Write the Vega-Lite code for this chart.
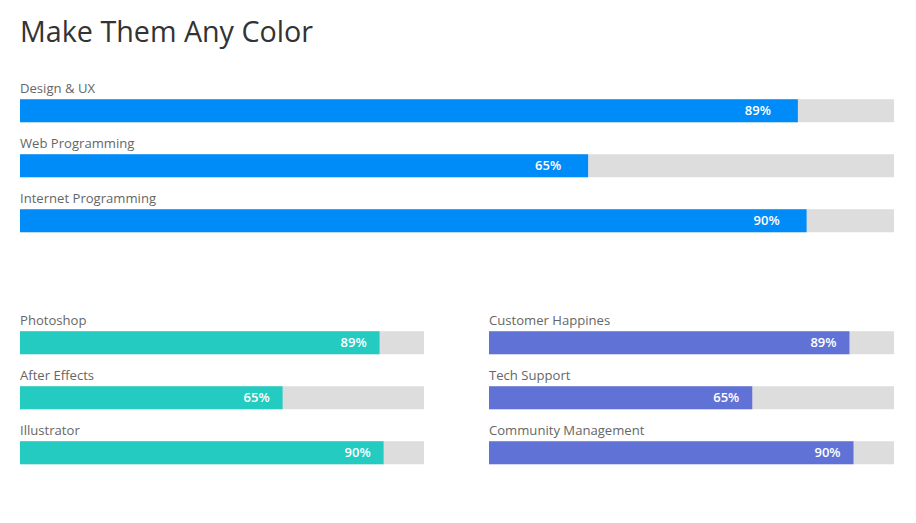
{
  "$schema": "https://vega.github.io/schema/vega-lite/v6.json",
  "background": "white",
  "padding": {"left": 20, "top": 19, "right": 22, "bottom": 0},
  "title": {
    "text": "Make Them Any Color",
    "anchor": "start",
    "font": "Open Sans",
    "fontSize": 28.7,
    "fontWeight": "normal",
    "color": "#333333",
    "offset": 32.3
  },
  "config": {
    "view": {"stroke": null},
    "text": {"font": "Open Sans"}
  },
  "datasets": {
    "skills": [
      {"group": "web", "skill": "Design & UX", "value": 0.89},
      {"group": "web", "skill": "Web Programming", "value": 0.65},
      {"group": "web", "skill": "Internet Programming", "value": 0.90},
      {"group": "design", "skill": "Photoshop", "value": 0.89},
      {"group": "design", "skill": "After Effects", "value": 0.65},
      {"group": "design", "skill": "Illustrator", "value": 0.90},
      {"group": "support", "skill": "Customer Happines", "value": 0.89},
      {"group": "support", "skill": "Tech Support", "value": 0.65},
      {"group": "support", "skill": "Community Management", "value": 0.90}
    ]
  },
  "spacing": 60,
  "vconcat": [
    {
      "width": 874,
      "height": {"step": 55},
      "data": {"name": "skills"},
      "transform": [{"filter": "datum.group === 'web'"}],
      "encoding": {
        "y": {"field": "skill", "type": "nominal", "sort": null, "axis": null,
              "scale": {"paddingInner": 0.582, "paddingOuter": 0.35}}
      },
      "layer": [
        {
          "mark": {"type": "bar", "color": "#dddddd"},
          "encoding": {"x": {"datum": 1, "type": "quantitative", "axis": null, "scale": {"domain": [0, 1]}}}
        },
        {
          "mark": {"type": "bar"},
          "encoding": {
            "x": {"field": "value", "type": "quantitative"},
            "color": {"field": "group", "type": "nominal", "legend": null,
                      "scale": {"domain": ["web", "design", "support"], "range": ["#008cf8", "#23cbc0", "#6072d5"]}}
          }
        },
        {
          "mark": {"type": "text", "align": "left", "baseline": "alphabetic", "dy": -17.8, "fontSize": 13.1, "color": "#666666"},
          "encoding": {"x": {"datum": 0, "type": "quantitative"}, "text": {"field": "skill"}}
        },
        {
          "mark": {"type": "text", "align": "center", "baseline": "alphabetic", "dx": -40, "dy": 4.5, "fontSize": 13, "fontWeight": 600, "color": "white"},
          "encoding": {"x": {"field": "value", "type": "quantitative"}, "text": {"field": "value", "format": ".0%"}}
        }
      ]
    },
    {
      "spacing": 65,
      "hconcat": [
        {
          "width": 404,
          "height": {"step": 55},
          "data": {"name": "skills"},
          "transform": [{"filter": "datum.group === 'design'"}],
          "encoding": {
            "y": {"field": "skill", "type": "nominal", "sort": null, "axis": null,
                  "scale": {"paddingInner": 0.582, "paddingOuter": 0.35}}
          },
          "layer": [
            {
              "mark": {"type": "bar", "color": "#dddddd"},
              "encoding": {"x": {"datum": 1, "type": "quantitative", "axis": null, "scale": {"domain": [0, 1]}}}
            },
            {
              "mark": {"type": "bar"},
              "encoding": {
                "x": {"field": "value", "type": "quantitative"},
                "color": {"field": "group", "type": "nominal", "legend": null,
                          "scale": {"domain": ["web", "design", "support"], "range": ["#008cf8", "#23cbc0", "#6072d5"]}}
              }
            },
            {
              "mark": {"type": "text", "align": "left", "baseline": "alphabetic", "dy": -17.8, "fontSize": 13.1, "color": "#666666"},
              "encoding": {"x": {"datum": 0, "type": "quantitative"}, "text": {"field": "skill"}}
            },
            {
              "mark": {"type": "text", "align": "center", "baseline": "alphabetic", "dx": -26, "dy": 4.5, "fontSize": 13, "fontWeight": 600, "color": "white"},
              "encoding": {"x": {"field": "value", "type": "quantitative"}, "text": {"field": "value", "format": ".0%"}}
            }
          ]
        },
        {
          "width": 405,
          "height": {"step": 55},
          "data": {"name": "skills"},
          "transform": [{"filter": "datum.group === 'support'"}],
          "encoding": {
            "y": {"field": "skill", "type": "nominal", "sort": null, "axis": null,
                  "scale": {"paddingInner": 0.582, "paddingOuter": 0.35}}
          },
          "layer": [
            {
              "mark": {"type": "bar", "color": "#dddddd"},
              "encoding": {"x": {"datum": 1, "type": "quantitative", "axis": null, "scale": {"domain": [0, 1]}}}
            },
            {
              "mark": {"type": "bar"},
              "encoding": {
                "x": {"field": "value", "type": "quantitative"},
                "color": {"field": "group", "type": "nominal", "legend": null,
                          "scale": {"domain": ["web", "design", "support"], "range": ["#008cf8", "#23cbc0", "#6072d5"]}}
              }
            },
            {
              "mark": {"type": "text", "align": "left", "baseline": "alphabetic", "dy": -17.8, "fontSize": 13.1, "color": "#666666"},
              "encoding": {"x": {"datum": 0, "type": "quantitative"}, "text": {"field": "skill"}}
            },
            {
              "mark": {"type": "text", "align": "center", "baseline": "alphabetic", "dx": -26, "dy": 4.5, "fontSize": 13, "fontWeight": 600, "color": "white"},
              "encoding": {"x": {"field": "value", "type": "quantitative"}, "text": {"field": "value", "format": ".0%"}}
            }
          ]
        }
      ]
    }
  ]
}
